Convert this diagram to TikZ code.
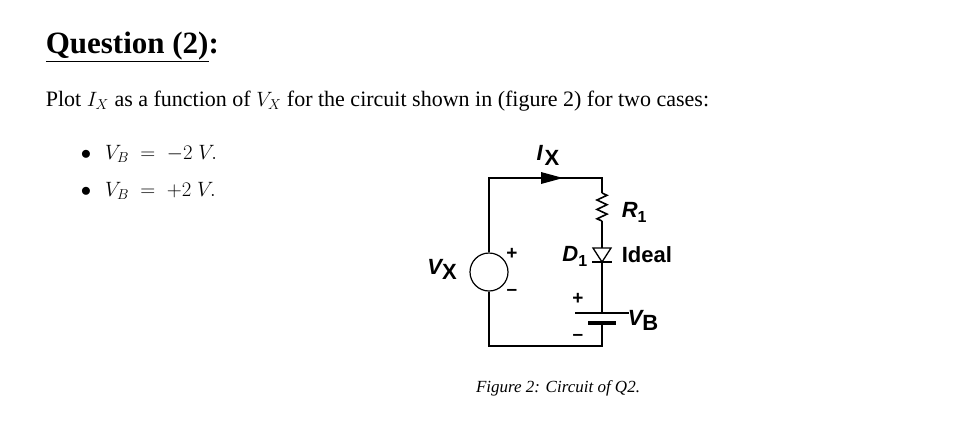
\documentclass[tikz,border=0pt]{standalone}
\usepackage{fontspec}
\setmainfont{Liberation Serif}
\newfontfamily\arial{Liberation Sans}
\begin{document}
\begin{tikzpicture}[x=1pt,y=-1pt,line width=1.6pt,
  lab/.style={font=\arial\bfseries\fontsize{22}{24}\selectfont,inner sep=0pt},
  sgn/.style={font=\arial\bfseries\fontsize{19}{20}\selectfont,inner sep=0pt}]
\useasboundingbox[fill=white] (0,0) rectangle (954,424);
\node[anchor=base west,inner sep=0pt,font=\fontsize{31}{34}\selectfont\bfseries] (q) at (45,53) {\underline{Question (2)}:};
\node[anchor=base west,inner sep=0pt,font=\fontsize{22}{26}\selectfont] (p) at (45,106) {Plot $I_X$ as a function of $V_X$ for the circuit shown in (figure 2) for two cases:};
\node[anchor=base west,inner sep=0pt,font=\fontsize{22}{26}\selectfont] (b1) at (80,159) {$\bullet$\hspace{14pt}$V_B\;=\;-2\;V.$};
\node[anchor=base west,inner sep=0pt,font=\fontsize{22}{26}\selectfont] (b2) at (80,196) {$\bullet$\hspace{14pt}$V_B\;=\;+2\;V.$};
% circuit
\coordinate (tl) at (489,178); \coordinate (tr) at (602,178);
\coordinate (bl) at (489,346); \coordinate (br) at (602,346);
\node[draw,circle,minimum size=38pt,inner sep=0pt,line width=1.2pt] (src) at (489,272) {};
\coordinate (r1) at (602,193); \coordinate (r2) at (602,221);
\coordinate (dt) at (602,248); \coordinate (db) at (602,262);
\coordinate (bp) at (602,313); \coordinate (bn) at (602,323);
\draw (src.north) -- (tl) -- (tr) -- (r1);
\draw (r1) -- ++(5,2.3) -- ++(-10,4.7) -- ++(10,4.7) -- ++(-10,4.7) -- ++(10,4.7) -- ++(-10,4.7) -- (r2);
\draw (r2) -- (dt);
\draw[line width=1.3pt] (dt) ++(-9,0) -- ++(18,0) -- (db) -- cycle;
\draw[line width=2.5pt] (db) ++(-10,0) -- ++(20,0);
\draw (db) -- (bp);
\draw[line width=2.5pt] (bp) ++(-27,0) -- ++(54,0);
\draw[line width=4pt] (bn) ++(-14,0) -- ++(28,0);
\draw (bn) -- (br) -- (bl) -- (src.south);
\fill (541,172) -- (541,184) -- (563,178) -- cycle;
\node[lab] (ix) at (548,155) {{\itshape I}\kern2pt\raisebox{-5pt}{X}};
\node[lab,anchor=west] (rl) at (621,212) {{\itshape R}\raisebox{-5pt}{\fontsize{16}{16}\selectfont 1}};
\node[lab,anchor=east] (dl) at (588,256) {{\itshape D}\raisebox{-5pt}{\fontsize{16}{16}\selectfont 1}};
\node[lab,anchor=west] (il) at (621,255) {Ideal};
\node[lab,anchor=west] (vb) at (627,320) {{\itshape V}\raisebox{-5pt}{B}};
\node[lab] (vx) at (442,269) {{\itshape V}\raisebox{-5pt}{X}};
\node[sgn] (sp) at (512,254) {+};
\node[sgn] (sm) at (512,292) {\textendash};
\node[sgn] (bpl) at (578,299) {+};
\node[sgn] (bmi) at (578,337) {\textendash};
\node[inner sep=0pt,font=\fontsize{17}{19}\selectfont\itshape] (cap) at (558,388) {Figure 2: Circuit of Q2.};
\end{tikzpicture}
\end{document}
